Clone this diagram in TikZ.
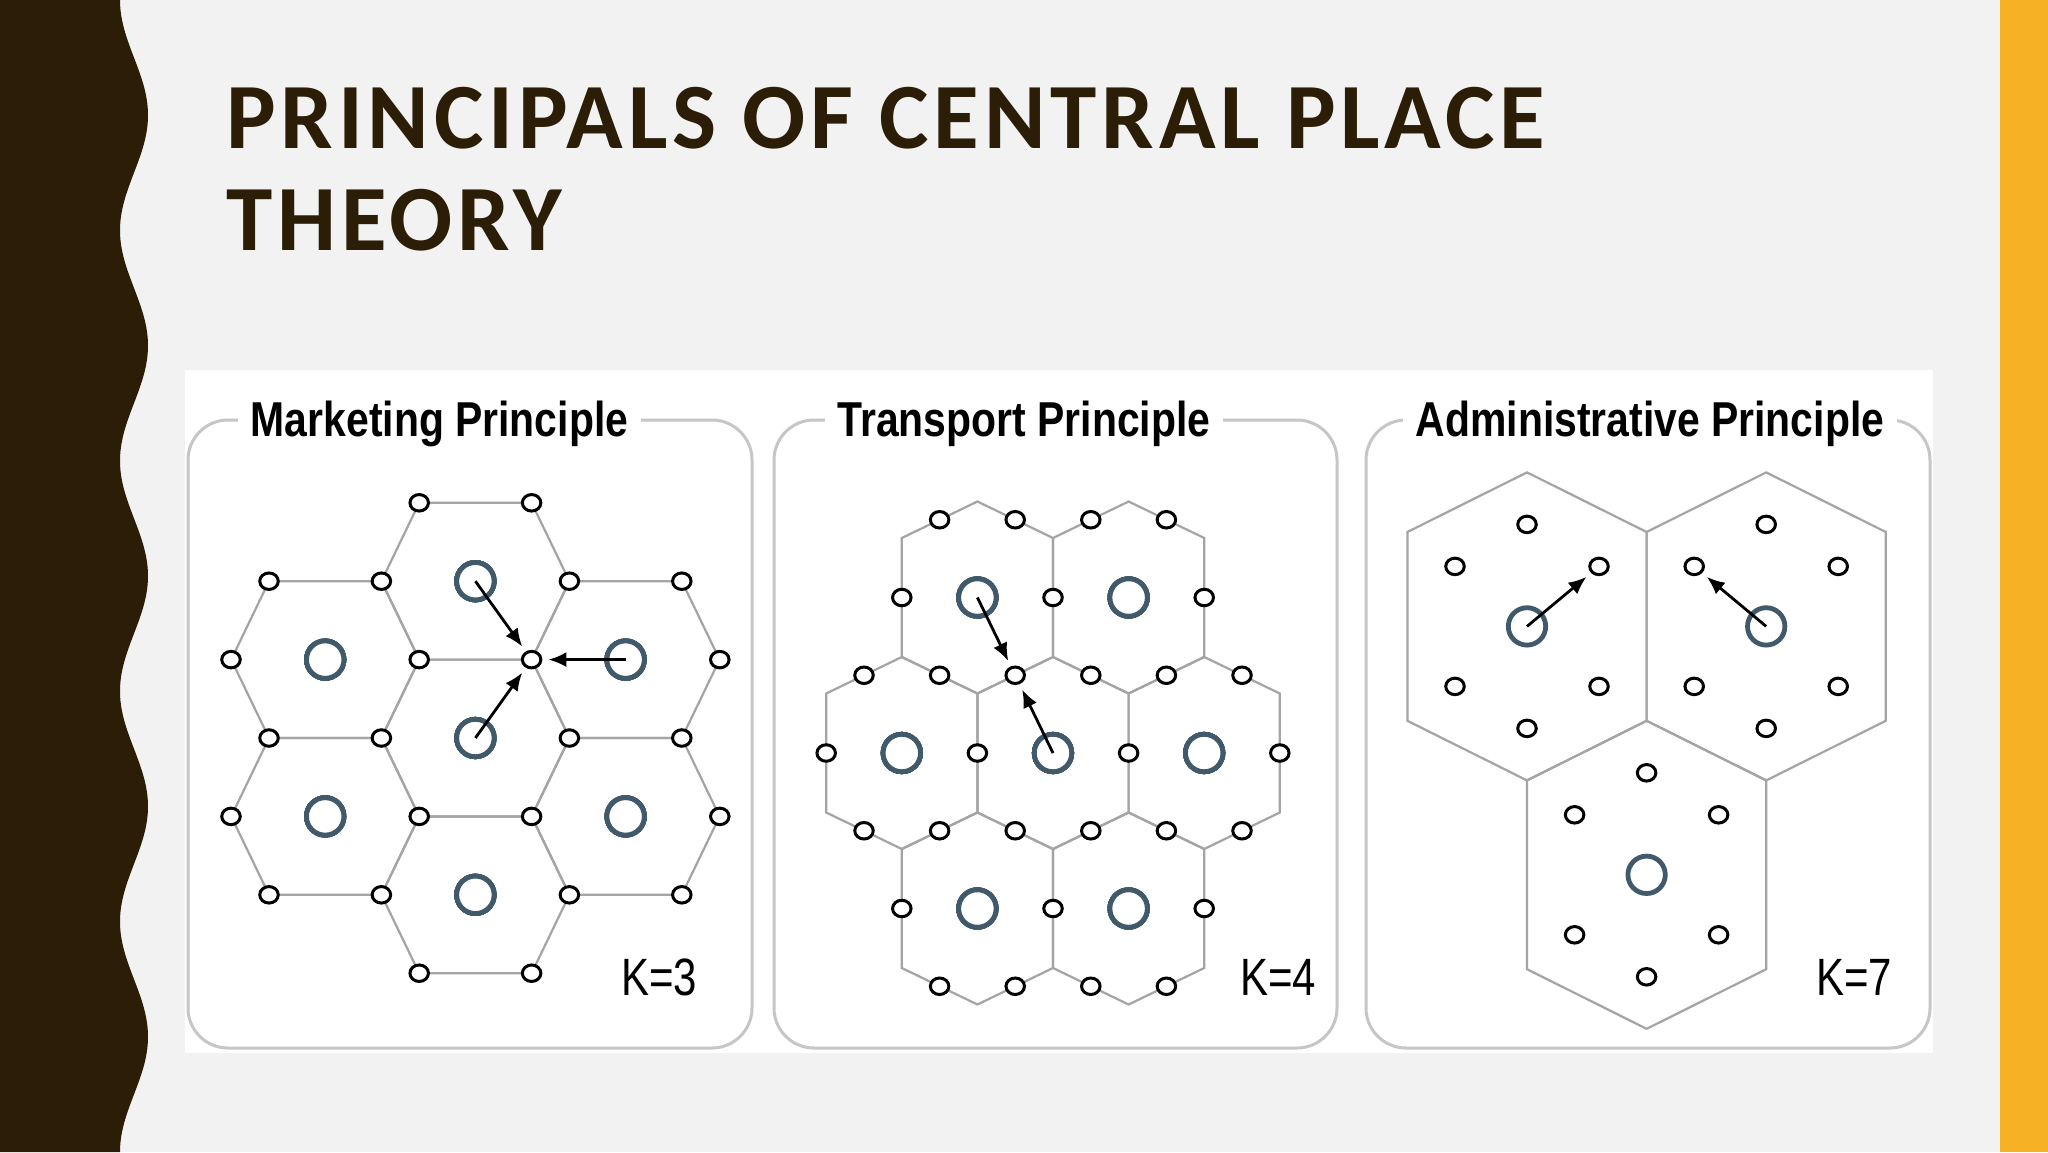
\documentclass[tikz,border=0pt]{standalone}
\usepackage{fontspec}
\setmainfont{Liberation Sans}
\newfontfamily\titlefont[LetterSpace=5.2]{Carlito}
\newfontfamily\panelfont[FakeStretch=0.835]{Liberation Sans}
\newfontfamily\kfont[FakeStretch=0.8]{Liberation Sans}
\usetikzlibrary{arrows.meta,shapes.geometric}

\definecolor{slidebg}{HTML}{F2F2F2}
\definecolor{darkbrown}{HTML}{2B1D06}
\definecolor{sideyellow}{HTML}{F7B125}
\definecolor{framegray}{HTML}{C6C6C6}
\definecolor{hexgray}{HTML}{A4A4A4}
\definecolor{centreblue}{HTML}{405A6B}

\tikzset{
	hexline/.style={draw=hexgray, line width=2.2pt},
	town/.style={ellipse, draw=black, fill=white, line width=3pt, inner sep=0pt, minimum width=18.5pt, minimum height=16.5pt},
	centre/.style={circle, draw=centreblue, fill=white, line width=4.8pt, inner sep=0pt, minimum size=37.4pt},
	pull/.style={line width=2.8pt, -{Latex[length=18pt,width=15pt]}, shorten >=6pt},
	panel/.style={draw=framegray, line width=3pt, rounded corners=40pt},
	paneltitle/.style={fill=white, anchor=base, inner xsep=13pt, inner ysep=2pt, font=\panelfont\bfseries\fontsize{49}{49}\selectfont},
	kvalue/.style={anchor=base west, inner sep=0pt, font=\kfont\fontsize{52.5}{52.5}\selectfont},
	headline/.style={anchor=base west, inner sep=0pt, text=darkbrown, font=\titlefont\bfseries\fontsize{93.4}{102}\selectfont}
}

\def\flathex(#1,#2){\draw[hexline, shift={(#1,#2)}] (94,0) -- (56.2,-78.4) -- (-56.2,-78.4) -- (-94,0) -- (-56.2,78.4) -- (56.2,78.4) -- cycle;}
\def\pointhex(#1,#2)(#3,#4,#5){\draw[hexline, shift={(#1,#2)}] (0,-#5) -- (#3,-#4) -- (#3,#4) -- (0,#5) -- (-#3,#4) -- (-#3,-#4) -- cycle;}

\begin{document}
\begin{tikzpicture}[x=1pt, y=-1pt]
				\useasboundingbox (0,0) rectangle (2048,1152);
				\fill[slidebg] (0,0) rectangle (2048,1152);
				\fill[darkbrown] (0,0) -- plot[domain=0:1152, samples=241, smooth] ({134-14*cos(\x*1.5625)},\x) -- (0,1152) -- cycle;
				\fill[sideyellow] (2000,0) rectangle (2048,1152);
				
				\node[headline] (head1) at (226,148) {PRINCIPALS OF CENTRAL PLACE};
				\node[headline] (head2) at (226,250) {THEORY};
				
				\fill[white] (185,370) rectangle (1933,1053);
				\draw[panel] (188,420) rectangle (752,1048);
				\draw[panel] (774,420) rectangle (1337,1048);
				\draw[panel] (1366,420) rectangle (1930,1048);
				\node[paneltitle] (mtitle) at (439.5,436) {Marketing Principle};
				\node[paneltitle] (ttitle) at (1024,436) {Transport Principle};
				\node[paneltitle] (atitle) at (1650,436) {Administrative Principle};
				
				\foreach \dx/\dy in {0/0, 0/-156.8, 0/156.8, -150.2/-78.4, -150.2/78.4, 150.2/-78.4, 150.2/78.4}
					\flathex(475.4+\dx,738+\dy)
				\foreach \n/\dx/\dy in {top/0/-156.8, mid/0/0, bot/0/156.8, nw/-150.2/-78.4, sw/-150.2/78.4, ne/150.2/-78.4, se/150.2/78.4}
					\node[centre] (m\n) at (475.4+\dx,738+\dy) {};
				\foreach \dx/\dy [count=\i] in {-56.2/-235.2, 56.2/-235.2,
						-206.4/-156.8, -94/-156.8, 94/-156.8, 206.4/-156.8,
						-244.4/-78.4, -56.2/-78.4, 56.2/-78.4, 244.4/-78.4,
						-206.4/0, -94/0, 94/0, 206.4/0,
						-244.4/78.4, -56.2/78.4, 56.2/78.4, 244.4/78.4,
						-206.4/156.8, -94/156.8, 94/156.8, 206.4/156.8,
						-56.2/235.2, 56.2/235.2}
					\node[town] (mv\i) at (475.4+\dx,738+\dy) {};
				\draw[pull] (mtop.center) -- (mv9);
				\draw[pull] (mne.center) -- (mv9);
				\draw[pull] (mmid.center) -- (mv9);
				
				\foreach \dx/\dy in {-75.6/-155.5, 75.6/-155.5, -151.2/0, 0/0, 151.2/0, -75.6/155.5, 75.6/155.5}
					\pointhex(1053+\dx,753+\dy)(75.6,59.5,96)
				\foreach \n/\dx/\dy in {nw/-75.6/-155.5, ne/75.6/-155.5, w/-151.2/0, mid/0/0, e/151.2/0, sw/-75.6/155.5, se/75.6/155.5}
					\node[centre] (t\n) at (1053+\dx,753+\dy) {};
				\foreach \dx/\dy [count=\i] in {-113.4/-233.25, -37.8/-233.25, 37.8/-233.25, 113.4/-233.25,
						-151.2/-155.5, 0/-155.5, 151.2/-155.5,
						-189/-77.75, -113.4/-77.75, -37.8/-77.75, 37.8/-77.75, 113.4/-77.75, 189/-77.75,
						-226.8/0, -75.6/0, 75.6/0, 226.8/0,
						-189/77.75, -113.4/77.75, -37.8/77.75, 37.8/77.75, 113.4/77.75, 189/77.75,
						-151.2/155.5, 0/155.5, 151.2/155.5,
						-113.4/233.25, -37.8/233.25, 37.8/233.25, 113.4/233.25}
					\node[town] (tv\i) at (1053+\dx,753+\dy) {};
				\draw[pull] (tnw.center) -- (tv10);
				\draw[pull] (tmid.center) -- (tv10);
				
				\foreach \n/\cx/\cy in {w/1527/626.4, e/1766.2/626.4, s/1646.6/874.8}{
					\pointhex(\cx,\cy)(119.6,94.4,154)
					\node[centre] (a\n) at (\cx,\cy) {};
					\foreach \dx/\dy [count=\i] in {0/-102, -72/-60, 72/-60, -72/60, 72/60, 0/102}
						\node[town] (a\n\i) at (\cx+\dx,\cy+\dy) {};
				}
				\draw[pull] (aw.center) -- (aw3);
				\draw[pull] (ae.center) -- (ae2);
				
				\node[kvalue] (kmarket) at (621,995) {K=3};
				\node[kvalue] (ktransport) at (1240,995) {K=4};
				\node[kvalue] (kadmin) at (1816,995) {K=7};
			\end{tikzpicture}
\end{document}
